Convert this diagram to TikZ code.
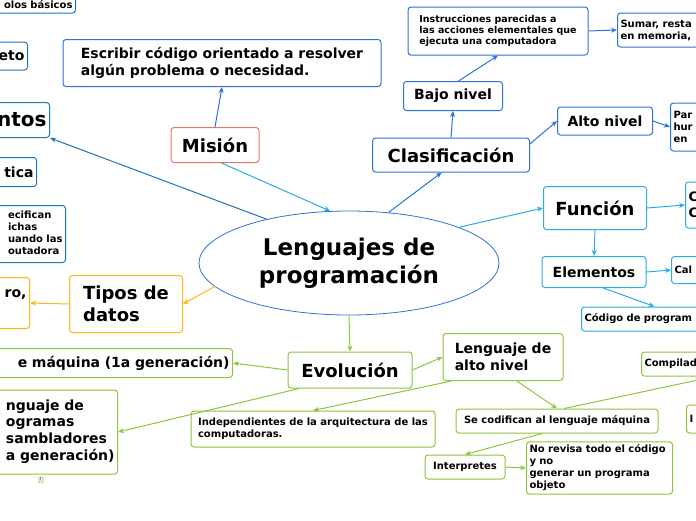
\documentclass[tikz,border=0pt]{standalone}
\usepackage{fontspec}
\setmainfont{DejaVu Sans}
\usetikzlibrary{arrows.meta,shapes.geometric}
\definecolor{cdb}{HTML}{2E72D2}
\definecolor{clb}{HTML}{2AACE2}
\definecolor{cgr}{HTML}{8DC43F}
\definecolor{cor}{HTML}{FDB913}
\definecolor{csa}{HTML}{E9785A}
\definecolor{cte}{HTML}{1B75BB}
\tikzset{
 box/.style={draw, rounded corners=3pt, line width=1pt, fill=white, inner sep=3pt, font=\bfseries, align=left},
 lft/.style={anchor=east, text width=120, align=right},
 rgt/.style={anchor=west, text width=140, align=left},
 ar/.style={line width=1pt, -{Stealth[length=6pt,width=5pt]}},
}
\newcommand{\fs}[1]{\fontsize{#1pt}{\dimexpr #1pt*6/5\relax}\selectfont}
\newcommand{\tb}[1]{\begin{tabular}{@{}l@{}}#1\end{tabular}}
\begin{document}
\begin{tikzpicture}[x=1pt,y=-1pt]
\useasboundingbox (0,0) rectangle (696,520);
\clip (0,0) rectangle (696,520);
% center
\node[draw=cdb, line width=0.8pt, ellipse, minimum width=300, minimum height=104, inner sep=0, font=\bfseries\fs{23}, align=center] (c) at (349,263) {Lenguajes de\\programación};
% left blue
\node[box,lft,draw=cte,minimum height=16,font=\bfseries\fs{10}] (sb) at (76,5) {olos básicos};
\node[box,lft,draw=cte,minimum height=28,font=\bfseries\fs{14}] (al) at (28,56) {eto};
\node[box,lft,draw=cte,minimum height=35,font=\bfseries\fs{20}] (el) at (50,120) {ntos};
\node[box,lft,draw=cte,minimum height=29,font=\bfseries\fs{14}] (se) at (37,172) {tica};
\node[box,lft,draw=cte,minimum height=57,font=\bfseries\fs{10}] (es) at (66,234) {\tb{ecifican\\ichas\\uando las\\outadora}};
% mision
\node[box,draw=csa,minimum width=88,minimum height=35,font=\bfseries\fs{18},align=center] (mi) at (215,145) {Misión};
\node[box,draw=cdb,minimum width=318,minimum height=47,font=\bfseries\fs{14}] (wr) at (222,63) {Escribir código orientado a resolver\\algún problema o necesidad.};
% tipos
\node[box,draw=cor,minimum width=113,minimum height=57,font=\bfseries\fs{18}] (td) at (126,304) {Tipos de\\datos};
\node[box,lft,draw=cor,minimum height=51,font=\bfseries\fs{14}] (ro) at (30,303) {\tb{ro,\\ \strut}};
% clasificacion
\node[box,draw=cdb,minimum width=157,minimum height=34,font=\bfseries\fs{18},align=center] (cl) at (451,155) {Clasificación};
\node[box,draw=cdb,minimum width=99,minimum height=29,font=\bfseries\fs{14},align=center] (bn) at (453,96) {Bajo nivel};
\node[box,draw=cdb,minimum width=180,minimum height=48,font=\bfseries\fs{9.5}] (in) at (498,31) {Instrucciones parecidas a\\las acciones elementales que\\ejecuta una computadora};
\node[box,rgt,draw=cdb,minimum height=34,font=\bfseries\fs{10}] (su) at (617,30) {Sumar, resta\\en memoria,};
\node[box,draw=cdb,minimum width=95,minimum height=28,font=\bfseries\fs{14},align=center] (an) at (605,121) {Alto nivel};
\node[box,rgt,draw=cdb,minimum height=48,font=\bfseries\fs{10}] (pa) at (670,127) {Par\\hur\\en};
% funcion
\node[box,draw=clb,minimum width=103,minimum height=43,font=\bfseries\fs{18},align=center] (fu) at (595,208) {Función};
\node[box,rgt,draw=clb,minimum height=46,font=\bfseries\fs{13}] (fx) at (685,205) {C\\C};
\node[box,draw=clb,minimum width=104,minimum height=31,font=\bfseries\fs{14},align=center] (em) at (594,272) {Elementos};
\node[box,rgt,draw=clb,minimum height=27,font=\bfseries\fs{10}] (ca) at (671,270) {Cal};
\node[box,rgt,draw=clb,minimum height=24,font=\bfseries\fs{10}] (co) at (581,319) {Código de program};
% evolucion
\node[box,draw=cgr,minimum width=124,minimum height=36,font=\bfseries\fs{18},align=center] (ev) at (350,370) {Evolución};
\node[box,draw=cgr,anchor=east,text width=260,align=right,minimum height=29,font=\bfseries\fs{14}] (lm) at (233,363) {e máquina (1a generación)};
\node[box,lft,draw=cgr,minimum height=84,font=\bfseries\fs{14}] (le) at (118,432) {\tb{nguaje de\\ogramas\\sambladores\\a generación)}};
\node[draw=cgr,rounded corners=1pt,line width=0.6pt,inner sep=1pt,font=\fs{5}] (ex) at (41,480) {!};
\node[box,draw=cgr,minimum width=120,minimum height=47,font=\bfseries\fs{14}] (la) at (503,357) {Lenguaje de\\alto nivel};
\node[box,draw=cgr,minimum width=244,minimum height=36,font=\bfseries\fs{10}] (id) at (313,429) {Independientes de la arquitectura de las\\computadoras.};
\node[box,draw=cgr,minimum width=202,minimum height=24,font=\bfseries\fs{10}] (sc) at (557,421) {Se codifican al lenguaje máquina};
\node[box,rgt,draw=cgr,minimum height=24,font=\bfseries\fs{10}] (cp) at (641,364) {Compilad};
\node[box,rgt,draw=cgr,minimum height=28,font=\bfseries\fs{10}] (ix) at (686,419) {I};
\node[box,draw=cgr,minimum width=80,minimum height=24,font=\bfseries\fs{10},align=center] (ip) at (465,467) {Interpretes};
\node[box,rgt,draw=cgr,minimum height=34,font=\bfseries\fs{10}] (nr) at (526,468) {No revisa todo el código y no\\generar un programa objeto};
% edges
\draw[ar,cte] (c.152) -- (el.south east);
\draw[ar,clb] (mi.-70) -- (c.110);
\draw[ar,cdb] (mi.north) -- (wr.south);
\draw[ar,cor] (c.west) ++(17,23) -- (td.east);
\draw[ar,cor] (td.west) -- (ro.east);
\draw[ar,cdb] (c.52) -- (cl.-118);
\draw[ar,cdb] (cl.north) -- (bn.south);
\draw[ar,cdb] (bn.70) -- (in.south);
\draw[ar,cdb] (in.east) -- (su.west);
\draw[ar,cdb] (cl.8) -- (an.west);
\draw[ar,cdb] (an.east) -- (pa.west);
\draw[ar,clb] (c.18) -- (fu.west);
\draw[ar,clb] (fu.east) -- (fx.west);
\draw[ar,clb] (fu.south) -- (em.north);
\draw[ar,clb] (em.east) -- (ca.west);
\draw[ar,clb] (em.-60) -- (co.north);
\draw[ar,cgr] (c.south) -- (ev.north);
\draw[ar,cgr] (ev.west) -- (lm.east);
\draw[ar,cgr] (ev.200) -- (le.east);
\draw[ar,cgr] (ev.east) -- (la.west);
\draw[ar,cgr] (la.205) -- (id.north);
\draw[ar,cgr] (la.-60) -- (sc.north);
\draw[ar,cgr] (sc.60) -- (cp.south);
\draw[ar,cgr] (sc.-140) -- (ip.north);
\draw[ar,cgr] (ip.east) -- (nr.west);
\end{tikzpicture}
\end{document}
